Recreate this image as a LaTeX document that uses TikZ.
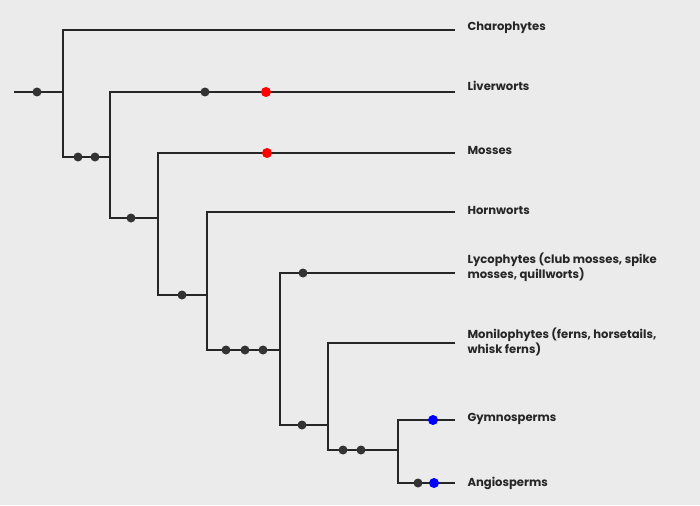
\documentclass[tikz,border=0pt]{standalone}
\usepackage{fontspec}
\setmainfont{Poppins}
\begin{document}
\begin{tikzpicture}[x=1pt,y=-1pt,
  br/.style={line width=1.3pt,color=black!85},
  dt/.style={circle,fill=black!80,inner sep=0pt,minimum size=9pt},
  rd/.style={circle,fill=red,inner sep=0pt,minimum size=10pt},
  bl/.style={circle,fill=blue,inner sep=0pt,minimum size=10pt},
  lb/.style={anchor=west,font=\fontsize{11.6}{14.5}\selectfont\bfseries,text=black!85,align=left}]
\fill[black!8] (0,0) rectangle (700,505);
\useasboundingbox (0,0) rectangle (700,505);
\coordinate (r0) at (14,92);
\coordinate (a) at (63,92);
\coordinate (b) at (110,157);
\coordinate (c) at (158,218);
\coordinate (d) at (207,295);
\coordinate (e) at (280,350);
\coordinate (f) at (328,425);
\coordinate (g) at (398,450);
\node[lb] (t1) at (464,28) {Charophytes};
\node[lb] (t2) at (464,86) {Liverworts};
\node[lb] (t3) at (464,150) {Mosses};
\node[lb] (t4) at (464,210) {Hornworts};
\node[lb] (t5) at (464,267) {Lycophytes (club mosses, spike\\mosses, quillworts)};
\node[lb] (t6) at (464,342) {Monilophytes (ferns, horsetails,\\whisk ferns)};
\node[lb] (t7) at (464,419) {Gymnosperms};
\node[lb] (t8) at (464,483) {Angiosperms};
\draw[br] (r0) -- (a);
\draw[br] (455,30) -| (a |- 0,30) -- (a |- 0,157) -- (b |- 0,157);
\draw[br] (455,92) -| (b |- 0,92) -- (b |- 0,218) -- (c |- 0,218);
\draw[br] (455,153) -| (c |- 0,153) -- (c |- 0,295) -- (d |- 0,295);
\draw[br] (455,212) -| (d |- 0,212) -- (d |- 0,350) -- (e |- 0,350);
\draw[br] (455,273) -| (e |- 0,273) -- (e |- 0,425) -- (f |- 0,425);
\draw[br] (455,343) -| (f |- 0,343) -- (f |- 0,450) -- (g |- 0,450);
\draw[br] (455,420) -| (g |- 0,420) -- (g |- 0,483) -- (455,483);
\node[dt] (d1) at (37,92) {};
\node[dt] (d2) at (78,157) {};
\node[dt] (d3) at (95,157) {};
\node[dt] (d4) at (205,92) {};
\node[rd] (d5) at (266,92) {};
\node[dt] (d6) at (131,218) {};
\node[rd] (d7) at (267,153) {};
\node[dt] (d8) at (182,295) {};
\node[dt] (d9) at (226,350) {};
\node[dt] (d10) at (245,350) {};
\node[dt] (d11) at (263,350) {};
\node[dt] (d12) at (303,273) {};
\node[dt] (d13) at (302,425) {};
\node[dt] (d14) at (343,450) {};
\node[dt] (d15) at (361,450) {};
\node[bl] (d16) at (433,420) {};
\node[dt] (d17) at (418,483) {};
\node[bl] (d18) at (434,483) {};
\end{tikzpicture}
\end{document}
